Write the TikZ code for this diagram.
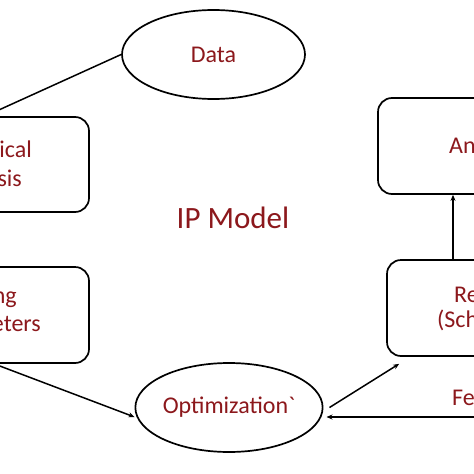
\documentclass[tikz,border=0pt]{standalone}
\usepackage{fontspec}
\setmainfont{Carlito}
\usetikzlibrary{arrows.meta,shapes.geometric}
\definecolor{txt}{RGB}{140,24,28}
\begin{document}
\begin{tikzpicture}[x=1pt,y=-1pt,
  box/.style={draw=black, line width=1.7pt, rounded corners=14pt, inner sep=0pt},
  oval/.style={draw=black, line width=1.7pt, ellipse, inner sep=0pt, text=txt, font=\fontsize{24}{24}\selectfont},
  lbl/.style={inner sep=0pt, text=txt, font=\fontsize{24}{24}\selectfont},
  conn/.style={draw=black, line width=1.5pt},
  tip/.style={-{Stealth[length=6pt,width=5pt]}}]
\useasboundingbox (0,0) rectangle (474,474);
\fill[white] (0,0) rectangle (474,474);
\clip (0,0) rectangle (474,474);
% nodes
\node[oval, minimum width=183pt, minimum height=89pt] (data) at (213.5,54.5) {Data};
\node[oval, minimum width=184pt, minimum height=89pt] (opt) at (229,407.5) {Optimization\textasciigrave};
\node[box, minimum width=160pt, minimum height=95pt] (stat) at (9,164.5) {};
\node[box, minimum width=160pt, minimum height=96pt] (param) at (9,315) {};
\node[box, minimum width=150pt, minimum height=96pt] (ana) at (453,146) {};
\node[box, minimum width=132pt, minimum height=96pt] (res) at (453,308) {};
\node[text=txt, inner sep=0pt, font=\fontsize{31}{31}\selectfont] (ip) at (233,218) {IP Model};
% clipped labels
\node[lbl, anchor=base east] (s1) at (32,157) {ical};
\node[lbl, anchor=base east] (s2) at (22,186) {sis};
\node[lbl, anchor=base east] (p1) at (17,303) {ng};
\node[lbl, anchor=base east] (p2) at (41,331) {eters};
\node[lbl, anchor=base west] (a1) at (449,153) {An};
\node[lbl, anchor=base west] (r1) at (454,302) {Re};
\node[lbl, anchor=base west] (r2) at (437,327) {(Sch};
\node[lbl, anchor=base west] (f1) at (452,405) {Fe};
% connectors
\coordinate (dA) at (-10,114);
\draw[conn] (data.west) -- (dA);
\coordinate (pS) at (-20,358.5);
\draw[conn,tip] (pS) -- ([yshift=-9.5pt]opt.west);
\draw[conn,tip] ([xshift=6pt]opt.east) -- ([xshift=13pt,yshift=-7pt]res.south west);
\draw[conn,tip] (res) -- (ana);
\coordinate (fb) at (480,417);
\draw[conn,tip] (fb) -- ([xshift=3pt,yshift=-9.5pt]opt.east);
\end{tikzpicture}
\end{document}
